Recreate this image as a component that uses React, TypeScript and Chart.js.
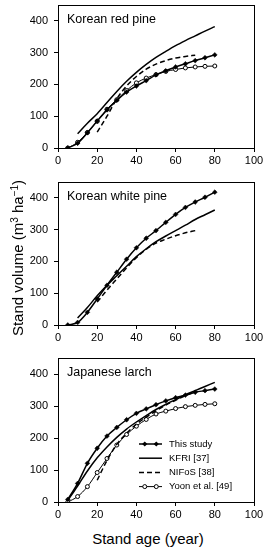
import React, { useEffect, useRef } from "react";
import { Chart, registerables } from "chart.js";

Chart.register(...registerables);

// ---- data ----
const ages = [5, 10, 15, 20, 25, 30, 35, 40, 45, 50, 55, 60, 65, 70, 75, 80];
const xTickStep = 20;
const yTickStep = 100;
const seriesNames = ["This study", "KFRI [37]", "NIFoS [38]", "Yoon et al. [49]"];
const panelTitles = ["Korean red pine", "Korean white pine", "Japanese larch"];

// Korean red pine
const redThisStudy = [0, 15, 48, 85, 120, 150, 176, 195, 212, 230, 243, 255, 265, 275, 284, 293];
const redKFRI = [null, 45, 78, 108, 143, 178, 210, 238, 263, 285, 304, 322, 338, 353, 368, 382];
const redNIFoS = [null, null, null, 50, 100, 155, 195, 225, 248, 264, 275, 283, 288, 292, null, null];
const redYoon = [0, 18, 49, 84, 122, 152, 181, 205, 220, 231, 241, 247, 252, 255, 257, 258];

// Korean white pine
const whiteThisStudy = [0, 8, 40, 82, 125, 166, 207, 243, 273, 297, 323, 348, 370, 387, 402, 418];
const whiteKFRI = [null, 22, 55, 92, 125, 155, 185, 215, 240, 262, 280, 297, 314, 332, 347, 362];
const whiteNIFoS = [null, null, null, 72, 110, 145, 180, 212, 238, 258, 270, 281, 290, 297, null, null];

// Japanese larch
const larchThisStudy = [8, 58, 121, 168, 206, 233, 257, 277, 291, 304, 316, 326, 334, 343, 348, 353];
const larchKFRI = [5, 50, 97, 138, 172, 202, 228, 250, 270, 289, 305, 320, 335, 348, 361, 374];
const larchNIFoS = [null, null, null, 68, 130, 180, 215, 243, 265, 285, 303, 318, 332, 345, null, null];
const larchYoon = [0, 17, 48, 92, 136, 178, 211, 237, 258, 275, 284, 292, 298, 302, 305, 307];

const FONT = "'Liberation Sans', Arial, Helvetica, sans-serif";

type Vals = (number | null)[];

function pts(vals: Vals) {
  const out: { x: number; y: number }[] = [];
  vals.forEach((v, i) => {
    if (v !== null && v !== undefined) out.push({ x: ages[i], y: v });
  });
  return out;
}

function drawDiamond(ctx: CanvasRenderingContext2D, x: number, y: number, r: number) {
  ctx.beginPath();
  ctx.moveTo(x, y - r);
  ctx.lineTo(x + r, y);
  ctx.lineTo(x, y + r);
  ctx.lineTo(x - r, y);
  ctx.closePath();
  ctx.fillStyle = "#000";
  ctx.fill();
}

function drawCircle(ctx: CanvasRenderingContext2D, x: number, y: number, r: number) {
  ctx.beginPath();
  ctx.arc(x, y, r, 0, Math.PI * 2);
  ctx.fillStyle = "#fff";
  ctx.fill();
  ctx.lineWidth = 1;
  ctx.strokeStyle = "#000";
  ctx.stroke();
}

function makeDecor(title: string, showLegend: boolean) {
  return {
    id: "decor",
    afterDraw(chart: any) {
      const ctx: CanvasRenderingContext2D = chart.ctx;
      const a = chart.chartArea;
      ctx.save();
      ctx.strokeStyle = "#000";
      ctx.lineWidth = 1;
      ctx.setLineDash([]);
      ctx.strokeRect(Math.round(a.left) + 0.5, Math.round(a.top) + 0.5, Math.round(a.right - a.left), Math.round(a.bottom - a.top));
      ctx.fillStyle = "#000";
      ctx.font = `12.5px ${FONT}`;
      ctx.textBaseline = "alphabetic";
      ctx.textAlign = "left";
      ctx.fillText(title, a.left + 9, a.top + 18);
      if (showLegend) {
        const x0 = a.left + 81;
        const x1 = a.left + 104;
        const tx = a.left + 111;
        ctx.font = `9.5px ${FONT}`;
        ctx.textBaseline = "middle";
        seriesNames.forEach((name, i) => {
          const y = a.top + 86 + i * 14.2;
          ctx.beginPath();
          ctx.lineWidth = i === 3 ? 1 : 1.5;
          ctx.strokeStyle = "#000";
          ctx.setLineDash(i === 2 ? [5, 3] : []);
          ctx.moveTo(x0, y);
          ctx.lineTo(x1, y);
          ctx.stroke();
          ctx.setLineDash([]);
          const m1 = x0 + (x1 - x0) * 0.25;
          const m2 = x0 + (x1 - x0) * 0.75;
          if (i === 0) {
            drawDiamond(ctx, m1, y, 2.6);
            drawDiamond(ctx, m2, y, 2.6);
          } else if (i === 3) {
            drawCircle(ctx, m1, y, 2);
            drawCircle(ctx, m2, y, 2);
          }
          ctx.fillStyle = "#000";
          ctx.fillText(name, tx, y);
        });
      }
      ctx.restore();
    },
  };
}

type PanelDef = {
  title: string;
  thisStudy: Vals;
  kfri: Vals;
  nifos: Vals;
  yoon: Vals | null;
  padTop: number;
  xAxisH: number;
  legend: boolean;
};

function makeConfig(p: PanelDef): any {
  const datasets: any[] = [
    {
      label: seriesNames[0],
      data: pts(p.thisStudy),
      borderColor: "#000",
      borderWidth: 1.5,
      pointStyle: "rectRot",
      pointRadius: 2.4,
      pointBackgroundColor: "#000",
      pointBorderColor: "#000",
      pointBorderWidth: 0.5,
      cubicInterpolationMode: "monotone",
      fill: false,
    },
    {
      label: seriesNames[1],
      data: pts(p.kfri),
      borderColor: "#000",
      borderWidth: 1.5,
      pointRadius: 0,
      cubicInterpolationMode: "monotone",
      fill: false,
    },
    {
      label: seriesNames[2],
      data: pts(p.nifos),
      borderColor: "#000",
      borderWidth: 1.5,
      borderDash: [5, 3],
      pointRadius: 0,
      cubicInterpolationMode: "monotone",
      fill: false,
    },
  ];
  if (p.yoon) {
    datasets.push({
      label: seriesNames[3],
      data: pts(p.yoon),
      borderColor: "#000",
      borderWidth: 1,
      pointStyle: "circle",
      pointRadius: 2,
      pointBackgroundColor: "#fff",
      pointBorderColor: "#000",
      pointBorderWidth: 1,
      cubicInterpolationMode: "monotone",
      fill: false,
    });
  }
  const grid = {
    drawOnChartArea: false,
    drawTicks: true,
    tickLength: 4,
    color: "#000",
    lineWidth: 1,
  };
  return {
    type: "line",
    data: { datasets },
    options: {
      responsive: false,
      animation: false,
      events: [],
      layout: { padding: { top: p.padTop, right: 14, bottom: 0, left: 0 } },
      plugins: { legend: { display: false }, tooltip: { enabled: false } },
      scales: {
        x: {
          type: "linear",
          min: 0,
          max: 100,
          ticks: { stepSize: xTickStep, color: "#000", font: { size: 11, family: FONT }, padding: 2, maxRotation: 0, includeBounds: false },
          grid,
          border: { display: false },
          afterFit: (s: any) => {
            s.height = p.xAxisH;
            s.paddingLeft = 0;
            s.paddingRight = 0;
          },
        },
        y: {
          type: "linear",
          min: 0,
          max: 450,
          ticks: { stepSize: yTickStep, color: "#000", font: { size: 11, family: FONT }, padding: 6, includeBounds: false },
          grid,
          border: { display: false },
          afterFit: (s: any) => {
            s.width = 58;
            s.paddingTop = 0;
            s.paddingBottom = 0;
          },
        },
      },
    },
    plugins: [makeDecor(p.title, p.legend)],
  };
}

const panels: PanelDef[] = [
  { title: panelTitles[0], thisStudy: redThisStudy, kfri: redKFRI, nifos: redNIFoS, yoon: redYoon, padTop: 4, xAxisH: 22, legend: false },
  { title: panelTitles[1], thisStudy: whiteThisStudy, kfri: whiteKFRI, nifos: whiteNIFoS, yoon: null, padTop: 12, xAxisH: 20, legend: false },
  { title: panelTitles[2], thisStudy: larchThisStudy, kfri: larchKFRI, nifos: larchNIFoS, yoon: larchYoon, padTop: 13, xAxisH: 23, legend: true },
];

const canvasTops = [0, 170, 345];
const canvasHeights = [170, 175, 180];

export default function App() {
  const refs = useRef<(HTMLCanvasElement | null)[]>([]);
  useEffect(() => {
    Chart.defaults.font.family = FONT;
    const charts = panels.map((p, i) => new Chart(refs.current[i] as HTMLCanvasElement, makeConfig(p)));
    return () => charts.forEach((c) => c.destroy());
  }, []);
  return (
    <div style={{ position: "absolute", left: 0, top: 0, width: 268, height: 550, background: "#fff", overflow: "hidden", fontFamily: FONT, color: "#000" }}>
      {panels.map((_, i) => (
        <canvas
          key={i}
          ref={(el) => {
            refs.current[i] = el;
          }}
          width={268}
          height={canvasHeights[i]}
          style={{ position: "absolute", left: 0, top: canvasTops[i], width: 268, height: canvasHeights[i] }}
        />
      ))}
      <div
        style={{
          position: "absolute",
          left: 14.5 - 100,
          top: 258 - 9,
          width: 200,
          height: 18,
          lineHeight: "18px",
          fontSize: 15,
          textAlign: "center",
          whiteSpace: "nowrap",
          transform: "rotate(-90deg)",
        }}
      >
        Stand volume (m<span style={{ fontSize: 10, verticalAlign: "5px" }}>3</span> ha<span style={{ fontSize: 10, verticalAlign: "5px" }}>−1</span>)
      </div>
      <div
        style={{
          position: "absolute",
          left: 0,
          top: 530,
          width: 296,
          height: 18,
          lineHeight: "18px",
          fontSize: 15,
          textAlign: "center",
          whiteSpace: "nowrap",
        }}
      >
        Stand age (year)
      </div>
    </div>
  );
}
